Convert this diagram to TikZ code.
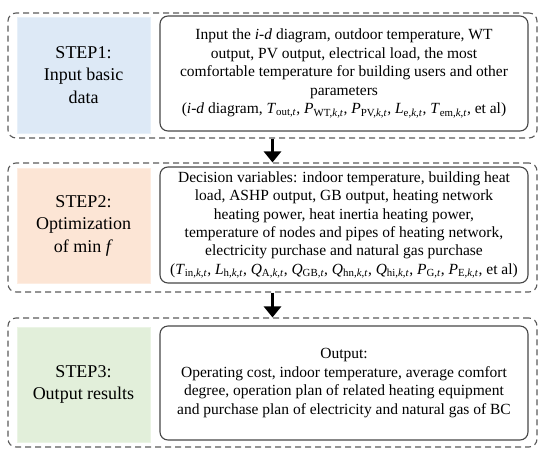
\documentclass[tikz,border=0pt]{standalone}
\usepackage{fontspec}
\setmainfont{Liberation Serif}
\usetikzlibrary{arrows.meta}

\definecolor{pblue}{RGB}{221,233,246}
\definecolor{porange}{RGB}{252,229,213}
\definecolor{pgreen}{RGB}{226,239,218}
\definecolor{dashgray}{RGB}{90,90,90}
\definecolor{boxgray}{RGB}{70,70,70}

\newcommand{\var}[2]{\textit{#1}\textsubscript{#2}}

\begin{document}
\begin{tikzpicture}[x=1pt,y=-1pt]
   \tikzset{outer/.style={draw=dashgray, dashed, dash pattern=on 6pt off 4pt, line width=1.1pt, rounded corners=8pt, minimum width=529pt, minimum height=#1, inner sep=0pt}};
   \tikzset{panel/.style 2 args={fill=#1, draw=#1!70!white, line width=0.6pt, minimum width=133pt, minimum height=#2, inner sep=0pt, align=center, font=\fontsize{18}{22.5}\selectfont}};
   \tikzset{txt/.style={draw=boxgray, line width=1.1pt, rounded corners=8pt, minimum width=368pt, minimum height=#1, inner sep=0pt, align=center, font=\fontsize{15.5}{18.4}\selectfont}};
   \tikzset{down/.style={line width=3.6pt, -{Triangle[width=17pt,length=11pt]}}};

\useasboundingbox (0,0) rectangle (550,459);

%Step1--------------------------
\node[outer=125pt] (s1) at (272.5,75.5) {};
\node[panel={pblue}{116pt}] (l1) at (83.5,75) {STEP1:\\Input basic\\data};
\node[txt=115pt] (t1) at (344,73.5) {Input the \textit{i-d} diagram, outdoor temperature, WT\\
output, PV output, electrical load, the most\\
comfortable temperature for building users and other\\
parameters\\
(\textit{i-d} diagram, \var{T}{out,\textit{t}}, \var{P}{WT,\textit{k},\textit{t}}, \var{P}{PV,\textit{k},\textit{t}}, \var{L}{e,\textit{k},\textit{t}}, \var{T}{em,\textit{k},\textit{t}}, et al)};

%Step2--------------------------
\node[outer=129pt] (s2) at (272.5,227.5) {};
\node[panel={porange}{115pt}] (l2) at (83.5,225.5) {STEP2:\\Optimization\\of min \textit{f}};
\node[txt=116pt] (t2) at (344,225) {Decision variables: indoor temperature, building heat\\
load, ASHP output, GB output, heating network\\
heating power, heat inertia heating power,\\
temperature of nodes and pipes of heating network,\\
electricity purchase and natural gas purchase\\
(\var{T}{in,\textit{k},\textit{t}}, \var{L}{h,\textit{k},\textit{t}}, \var{Q}{A,\textit{k},\textit{t}}, \var{Q}{GB,\textit{t}}, \var{Q}{hn,\textit{k},\textit{t}}, \var{Q}{hi,\textit{k},\textit{t}}, \var{P}{G,\textit{t}}, \var{P}{E,\textit{k},\textit{t}}, et al)};

%Step3--------------------------
\node[outer=129pt] (s3) at (272.5,382.5) {};
\node[panel={pgreen}{115pt}] (l3) at (83.5,384.5) {STEP3:\\Output results};
\node[txt=114pt] (t3) at (344,383) {Output:\\
Operating cost, indoor temperature, average comfort\\
degree, operation plan of related heating equipment\\
and purchase plan of electricity and natural gas of BC};

%Arrows-------------------------
\draw[down] (s1.south) -- (s2.north);
\draw[down] (s2.south) -- (s3.north);

\end{tikzpicture}
\end{document}
